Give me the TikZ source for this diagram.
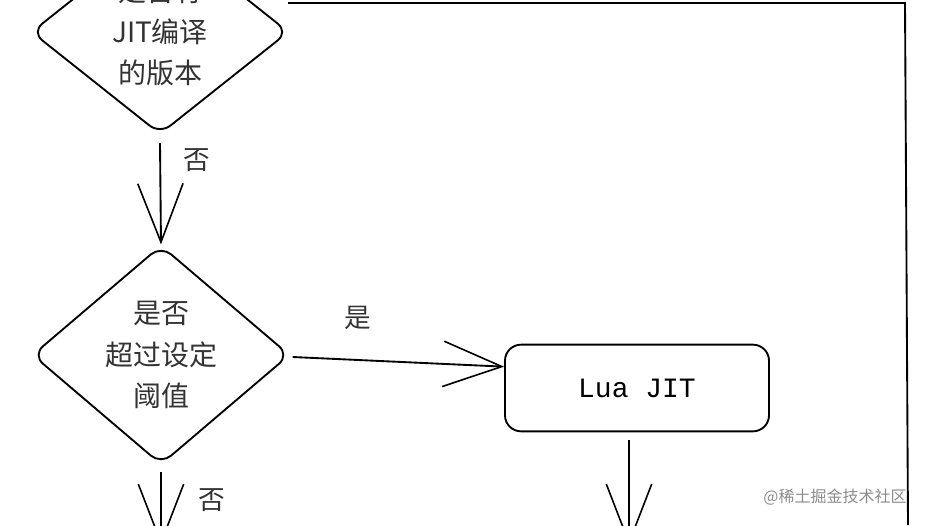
\documentclass[tikz,border=0pt]{standalone}
\usepackage{fontspec}
\setmainfont{Noto Sans CJK SC}
\newfontfamily\monof{Liberation Mono}
\usetikzlibrary{shapes.geometric,arrows.meta}
\begin{document}
\begin{tikzpicture}[x=0.75pt,y=-0.75pt,
  dec/.style={draw,line width=1.4pt,diamond,rounded corners=10pt,minimum width=193pt,minimum height=152pt,inner sep=0pt,align=center,font=\fontsize{21}{31}\selectfont,text=black!80},
  proc/.style={draw,line width=1.4pt,rounded corners=12pt,minimum width=198pt,minimum height=65pt,font=\monof\fontsize{21}{25}\selectfont},
  arr/.style={line width=1.4pt,-{Straight Barb[length=44pt,width=34pt,line width=1.2pt]}},
  lab/.style={font=\fontsize{20}{23}\selectfont,text=black!80}]
\useasboundingbox (0,0) rectangle (932,525);
\node[dec] (d1) at (160,32) {是否有\\JIT编译\\的版本};
\node[dec] (d2) at (161,355) {是否\\超过设定\\阈值};
\node[proc] (p) at (637,388) {Lua JIT};
\coordinate (r0) at (288,3);
\coordinate (r1) at (905,3);
\coordinate (r2) at (908,525);
\coordinate (b1) at (161,545);
\coordinate (b2) at (629,545);
\draw[line width=1.4pt] (r0) -- (r1) -- (r2);
\draw[arr] (d1.south) ++(0,8) -- (d2.north);
\draw[arr] (d2.east) ++(2,2) -- ([yshift=16pt]p.west);
\draw[arr] (d2.south) ++(0,6) -- (b1);
\draw[arr] (p.south) ++(-8,8) -- (b2);
\node[lab] (n1) at (197,160) {否};
\node[lab] (n2) at (358,318) {是};
\node[lab] (n3) at (212,500) {否};
\node[font=\fontsize{12}{14}\selectfont,text=black!45] (wm) at (835,497) {@稀土掘金技术社区};
\end{tikzpicture}
\end{document}
